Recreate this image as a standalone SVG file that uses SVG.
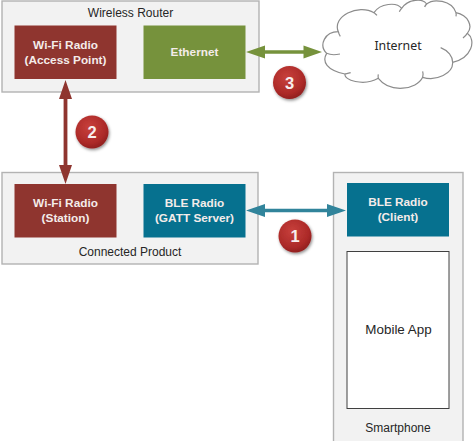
<svg xmlns="http://www.w3.org/2000/svg" width="474" height="441" viewBox="0 0 474 441">
<style>
.box{fill:#f2f2f2;stroke:#b3b3b3;stroke-width:1.4}
.t{font-family:"Liberation Sans",Arial,sans-serif;text-anchor:middle}
.l{font-size:12px;fill:#262626}
.w{font-size:11.8px;font-weight:bold;fill:#f4ecea}
.red{fill:#8f352f}.grn{fill:#76923c}.blu{fill:#06718f}
.n{font-size:16.5px;font-weight:bold;fill:#f7eeee}
.badge{fill:url(#bg);filter:url(#sh)}
</style>
<defs>
<radialGradient id="bg" cx="0.42" cy="0.35" r="0.7"><stop offset="0" stop-color="#c8403c"/><stop offset="0.7" stop-color="#ac2a28"/><stop offset="1" stop-color="#8a1c1c"/></radialGradient>
<filter id="sh" x="-30%" y="-30%" width="170%" height="170%"><feDropShadow dx="1" dy="1.5" stdDeviation="1.5" flood-color="#000" flood-opacity="0.45"/></filter>
</defs>
<rect width="474" height="441" fill="#fff"/>
<g id="router">
<rect class="box" x="2" y="1" width="257" height="91"/>
<text class="t l" x="130.5" y="16.5">Wireless Router</text>
</g>
<g id="wifi-ap"><rect class="red" x="14.5" y="25.5" width="102" height="53.5"/>
<text class="t w" x="65.5" y="49">Wi-Fi Radio</text><text class="t w" x="65.5" y="63.5">(Access Point)</text></g>
<g id="ethernet"><rect class="grn" x="143.5" y="25.5" width="102" height="53.5"/>
<text class="t w" x="194.5" y="56">Ethernet</text></g>
<g id="internet">
<g transform="translate(230 0) scale(.3333)" fill="none" stroke="#8c8c8c" stroke-width="3.6">
<path fill="#fff" d="M290,160C265,135 285,95 325,95C305,50 385,10 432,38C450,10 500,5 515,25C535,-5 580,-5 590,12C610,-5 665,0 678,38C715,45 730,80 712,100C740,120 725,175 668,187C670,220 620,245 578,232C560,270 480,280 445,235C400,260 340,240 345,222C290,210 275,185 290,160Z"/>
<path d="M290,160C303,166 317,165 330,162M325,95C326,100 328,105 331,109M432,38C435,41 438,43 441,46M515,25C512,28 510,31 508,35M590,12C587,15 585,18 584,21M678,38C679,42 679,45 678,49M712,100C708,106 704,110 699,114M668,187C668,170 655,152 632,143M578,232C580,226 580,220 578,214M445,235C444,231 444,227 445,223M345,222C350,221 356,220 362,218"/>
</g>
<text x="398" y="49.5" text-anchor="middle" font-family="Noto Sans,sans-serif" font-size="12.3" fill="#262626">Internet</text>
</g>
<g id="product">
<rect class="box" x="2" y="172.5" width="256" height="91.5"/>
<text class="t l" x="130" y="255.5">Connected Product</text>
</g>
<g id="wifi-sta"><rect class="red" x="14.5" y="184" width="102" height="53.5"/>
<text class="t w" x="65.5" y="207">Wi-Fi Radio</text><text class="t w" x="65.5" y="221.5">(Station)</text></g>
<g id="ble-server"><rect class="blu" x="143.5" y="184" width="102" height="53.5"/>
<text class="t w" x="194.5" y="207">BLE Radio</text><text class="t w" x="194.5" y="221.5">(GATT Server)</text></g>
<g id="smartphone">
<rect class="box" x="333.5" y="172.5" width="129.5" height="270"/>
<text class="t l" x="398" y="431.7">Smartphone</text>
</g>
<g id="ble-client"><rect class="blu" x="347" y="183" width="102" height="53.5"/>
<text class="t w" x="398" y="206">BLE Radio</text><text class="t w" x="398" y="220.5">(Client)</text></g>
<g id="app"><rect x="347" y="251.5" width="102" height="157" fill="#fff" stroke="#404040" stroke-width="1"/>
<text class="t" x="398.5" y="334" font-size="13.4" fill="#262626">Mobile App</text></g>
<g id="connectors">
<path fill="#8f352f" d="M65.5,80L72,99H67.4V165H72L65.5,184L59,165H63.6V99H59Z"/>
<path fill="#76923c" d="M246,52L265,45.5V50.2H303.5V45.5L322,52L303.5,58.5V53.8H265V58.5Z"/>
<path fill="#31849b" d="M246,210.5L265,204V208.7H327V204L346,210.5L327,217V212.3H265V217Z"/>
</g>
<g id="badge-2"><circle class="badge" cx="92" cy="132" r="16.5"/><text class="t n" x="92" y="138">2</text></g>
<g id="badge-3"><circle class="badge" cx="289.5" cy="82.5" r="16.5"/><text class="t n" x="289.5" y="88.5">3</text></g>
<g id="badge-1"><circle class="badge" cx="295" cy="236" r="16.5"/><text class="t n" x="295" y="242">1</text></g>
</svg>
